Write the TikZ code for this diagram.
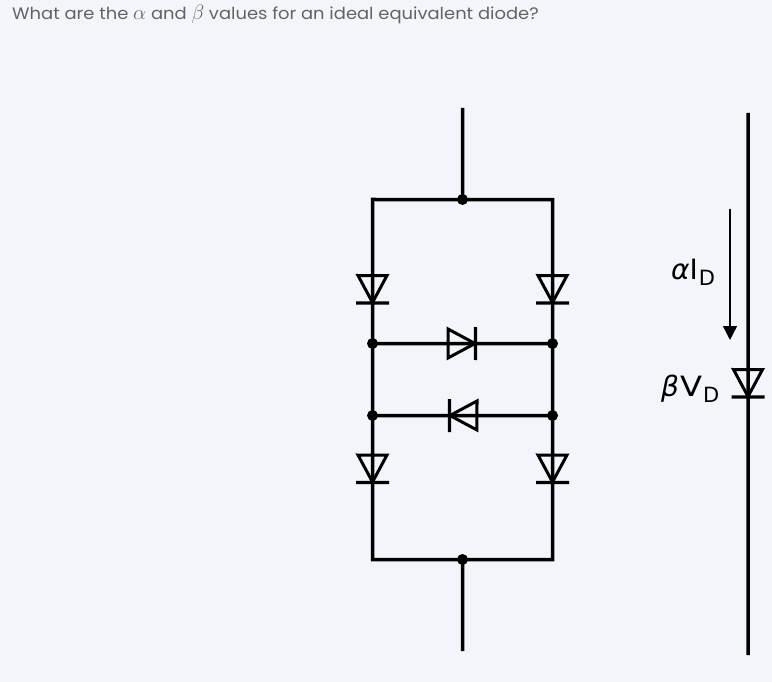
\documentclass[tikz,border=0pt]{standalone}
\usepackage{fontspec}
\usepackage{graphicx}
\usetikzlibrary{arrows.meta}
\setmainfont[FakeStretch=1.08]{Poppins}
\newfontfamily\labelfont{DejaVu Sans}
\definecolor{bgcol}{HTML}{F2F6FB}
\definecolor{qcol}{HTML}{636363}
\tikzset{
  wire/.style={line width=3.5pt,black},
  dot/.style={circle,fill=black,inner sep=0pt,minimum size=11pt},
  diodesym/.pic={
    \draw[line width=3pt,miter limit=10] (-14.5,-13.5) -- (14.5,-13.47) -- (0,13.5) -- cycle;
    \draw[line width=3.3pt] (-16.5,14) -- (16.5,14.03);
  },
  question/.style={anchor=west,inner sep=0pt,text=qcol,font=\fontsize{16.6pt}{19pt}\selectfont},
  biglabel/.style={inner sep=0pt,anchor=base west,font=\labelfont\fontsize{28pt}{30pt}\selectfont},
  currentarrow/.style={line width=1.4pt,-{Triangle[length=14pt,width=14pt]}}
}
\newcommand{\subD}{{\fontsize{21pt}{22pt}\selectfont\raisebox{-6.5pt}{D}}}
\newcommand{\qmath}[1]{{\fontsize{22pt}{21pt}\selectfont$#1$}}
\begin{document}
\begin{tikzpicture}[x=1pt,y=-1pt]
\fill[bgcol] (0,0) rectangle (772,682);
\useasboundingbox (0,0) rectangle (772,682);
\node[question] (q) at (12,14.5) {What are the \qmath{\alpha} and \qmath{\beta} values for an ideal equivalent diode?};
% junctions
\coordinate (top) at (462.53,108);
\coordinate (bot) at (462.53,651);
\node[dot] (jt) at (462.5,199.5) {};
\node[dot] (jb) at (462.5,559.5) {};
\node[dot] (l1) at (372.5,343.5) {};
\node[dot] (r1) at (552.5,343.53) {};
\node[dot] (l2) at (372.53,415.5) {};
\node[dot] (r2) at (552.53,415.53) {};
\coordinate (tl) at (372.53,199.5);
\coordinate (tr) at (552.53,199.53);
\coordinate (bl) at (372.5,559.53);
\coordinate (br) at (552.5,559.5);
% wires
\draw[wire] (top) -- (jt.center);
\draw[wire] (bot) -- (jb.center);
\draw[wire,line join=miter] (l1.center) -- (tl) -- (tr) -- (r1.center);
\draw[wire,line join=miter] (l2.center) -- (bl) -- (br) -- (r2.center);
\draw[wire] (l1.center) -- (l2.center);
\draw[wire] (r1.center) -- (r2.center);
\draw[wire] (l1.center) -- (r1.center);
\draw[wire] (l2.center) -- (r2.center);
% diodes
\pic at (372.5,289) {diodesym};
\pic at (552.5,289) {diodesym};
\pic at (372.5,468.5) {diodesym};
\pic at (552.5,468.5) {diodesym};
\pic[rotate=90] at (461.5,343.5) {diodesym};
\pic[rotate=-90] at (463.5,415.5) {diodesym};
% right branch
\coordinate (rt) at (748,113);
\coordinate (rb) at (748.03,655);
\draw[wire] (rt) -- (rb);
\pic at (748,383) {diodesym};
\coordinate (as) at (730,209);
\coordinate (ae) at (730,340);
\draw[currentarrow] (as) -- (ae);
\node[biglabel] (ial) at (671,279.5) {\textit{α}I\kern1pt\subD};
\node[biglabel] (vbe) at (661,396) {\textit{β}\kern1pt\scalebox{1.15}[1]{V}\kern1pt\subD};
\end{tikzpicture}
\end{document}
